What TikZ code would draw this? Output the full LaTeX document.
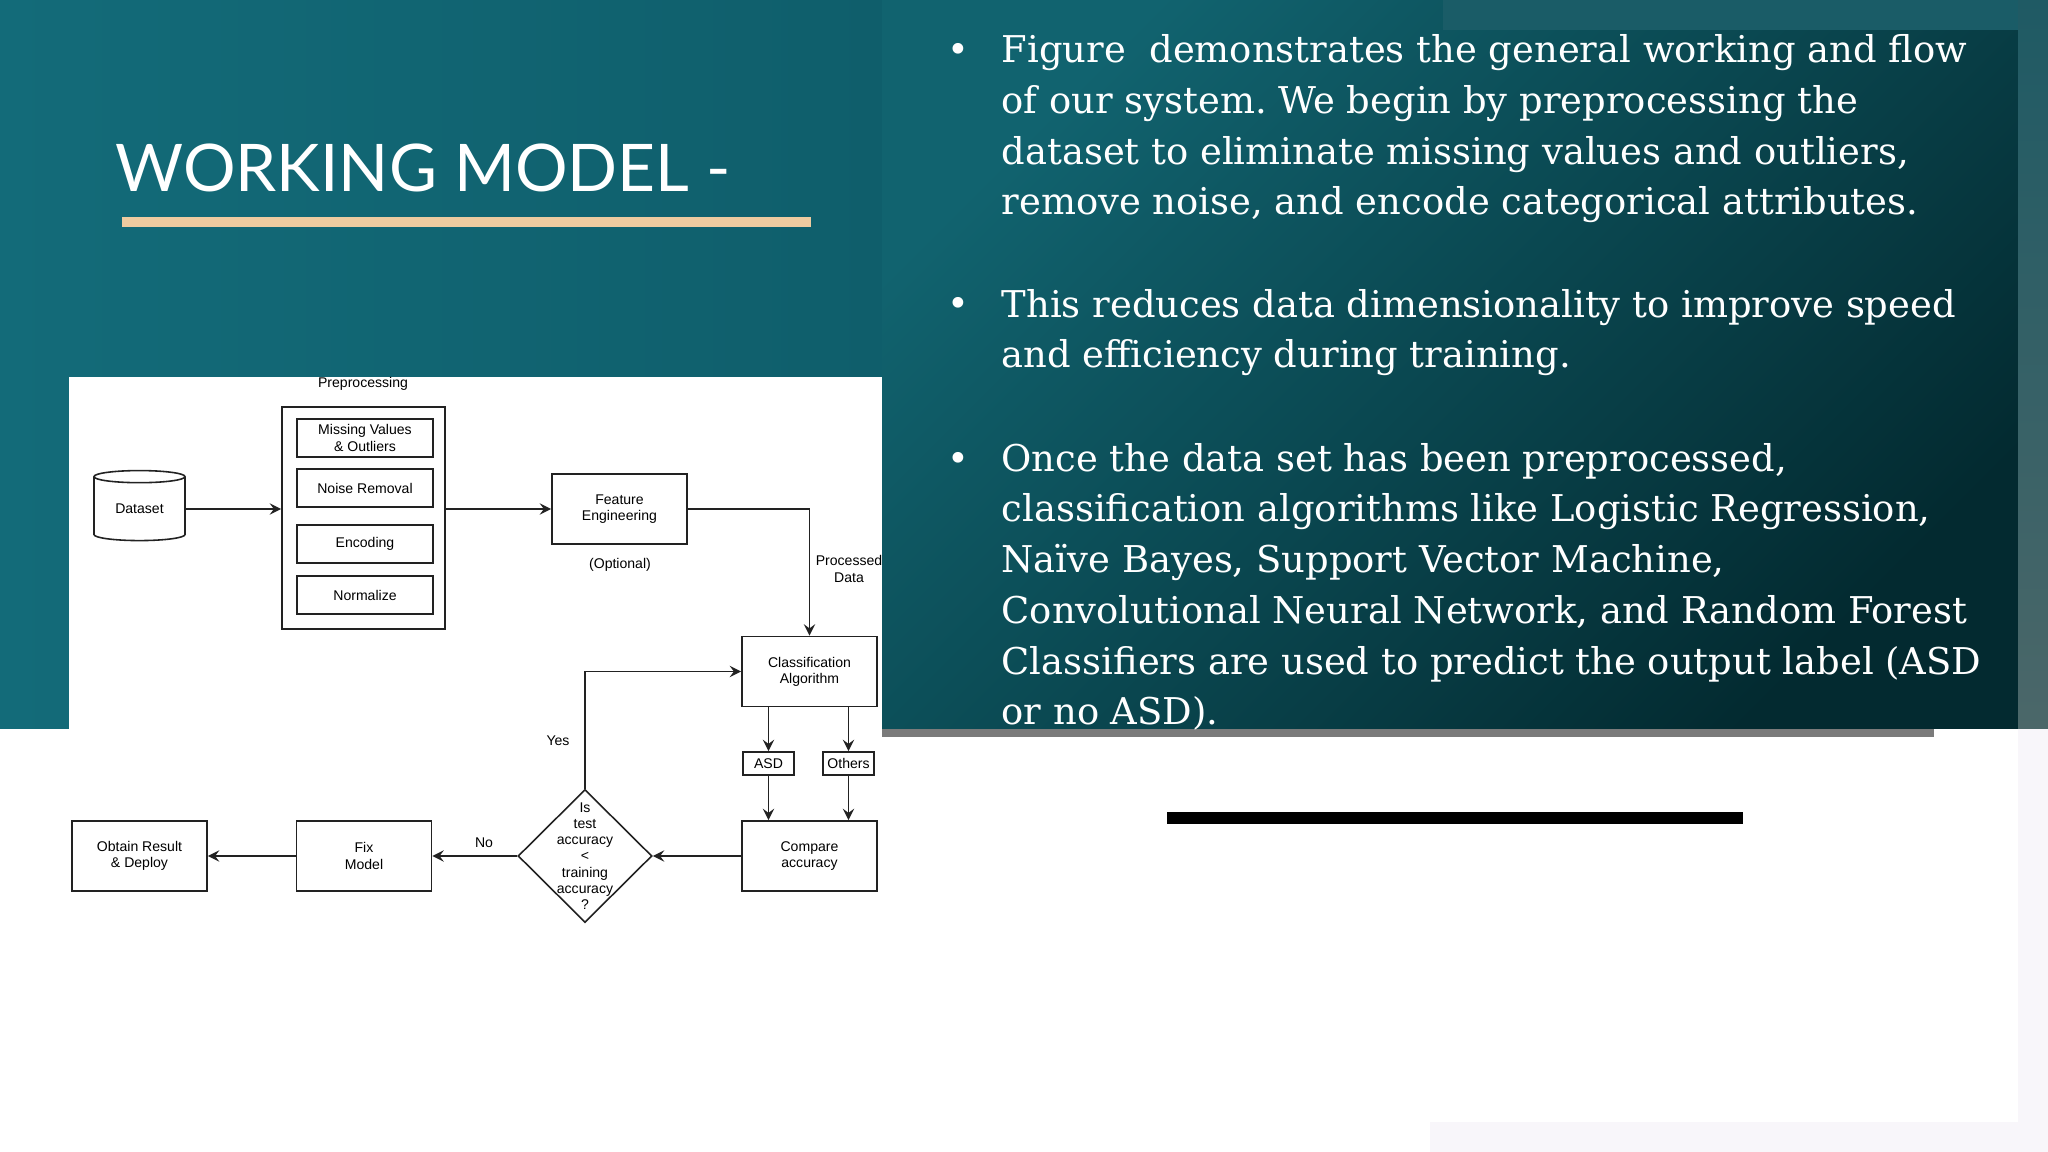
\documentclass[tikz,border=0pt]{standalone}
\usepackage{fontspec}
\setmainfont{Liberation Sans}
\newfontfamily\titlefont{Lato}
\newfontfamily\bodyfont{DejaVu Serif}
\usetikzlibrary{shapes.geometric,positioning}
\frenchspacing

\definecolor{slideteal}{HTML}{136B79}
\definecolor{slidetealdark}{HTML}{0F5E6B}
\definecolor{paneltop}{HTML}{11636F}
\definecolor{panelbot}{HTML}{032A30}
\definecolor{panelcap}{HTML}{1A5C67}
\definecolor{striptop}{HTML}{1F5A64}
\definecolor{stripbot}{HTML}{4B6769}
\definecolor{paper}{HTML}{F8F6FA}
\definecolor{shadowbar}{HTML}{7B7B7B}
\definecolor{barbeige}{HTML}{EECBA0}
\definecolor{flowline}{HTML}{222222}

\newcommand\flowfont{\fontsize{4pt}{4.6pt}\selectfont}

\tikzset{
  box/.style={draw=flowline, line width=0.45pt, rectangle, minimum width=1.35cm, minimum height=0.70cm, inner sep=0pt, align=center, font=\flowfont},
  subbox/.style={box, minimum width=1.36cm, minimum height=0.38cm},
  tagbox/.style={box, minimum width=0.51cm, minimum height=0.23cm},
  flowlabel/.style={inner sep=0pt, align=center, font=\flowfont},
  bullettext/.style={text=white, anchor=base west, align=left, inner sep=0pt, font=\bodyfont\fontsize{10.5pt}{14.45pt}\selectfont},
  bulletdot/.style={text=white, anchor=base, inner sep=0pt, font=\bodyfont\fontsize{10.5pt}{14.45pt}\selectfont},
}

\begin{document}
\begin{tikzpicture}[x=1cm,y=1cm,>=stealth]
\useasboundingbox (0,0) rectangle (20.48,-11.52);
\fill[white] (0,0) rectangle (20.48,-11.52);
\shade[left color=slideteal, right color=slidetealdark] (0,0) rectangle (8.82,-7.29);
\fill[white] (0.69,-3.77) rectangle (8.82,-7.29);
\shade[top color=paneltop, bottom color=panelbot, shading angle=45] (8.82,0) rectangle (20.18,-7.29);
\fill[panelcap] (14.43,0) rectangle (20.18,-0.30);
\shade[top color=striptop, bottom color=stripbot] (20.18,0) rectangle (20.48,-7.29);
\fill[paper] (20.18,-7.29) rectangle (20.48,-11.52);
\fill[paper] (14.30,-11.22) rectangle (20.48,-11.52);
\fill[shadowbar] (8.82,-7.29) rectangle (19.34,-7.37);
\fill[black] (11.67,-8.12) rectangle (17.43,-8.24);

\node[anchor=base west, inner sep=0pt, text=white, font=\titlefont\fontsize{18.7pt}{22pt}\selectfont] (title) at (1.15,-1.92) {WORKING MODEL -};
\fill[barbeige] (1.22,-2.17) rectangle (8.11,-2.27);

% multi-line nodes sit on their last baseline
\node[bulletdot] (dot1) at (9.58,-0.63) {•};
\node[bullettext] (para1) at (10.01,-2.15) {Figure\ \ demonstrates the general working and flow\\of our system. We begin by preprocessing the\\dataset to eliminate missing values and outliers,\\remove noise, and encode categorical attributes.};
\node[bulletdot] (dot2) at (9.58,-3.17) {•};
\node[bullettext] (para2) at (10.01,-3.68) {This reduces data dimensionality to improve speed\\and efficiency during training.};
\node[bulletdot] (dot3) at (9.58,-4.71) {•};
\node[bullettext] (para3) at (10.01,-7.25) {Once the data set has been preprocessed,\\classification algorithms like Logistic Regression,\\Naïve Bayes, Support Vector Machine,\\Convolutional Neural Network, and Random Forest\\Classifiers are used to predict the output label (ASD\\or no ASD).};

\node[flowlabel] (prelabel) at (3.63,-3.84) {Preprocessing};
\node[box, minimum width=1.63cm, minimum height=2.22cm] (pre) at (3.635,-5.18) {};
\node[subbox] (miss) at (3.65,-4.38) {Missing Values\\\& Outliers};
\node[subbox] (noise) at (3.65,-4.88) {Noise Removal};
\node[subbox] (enc) at (3.65,-5.44) {Encoding};
\node[subbox] (norm) at (3.65,-5.95) {Normalize};
\node[cylinder, shape border rotate=90, aspect=0.25, draw=flowline, line width=0.45pt, minimum width=0.91cm, minimum height=0.70cm, inner sep=0pt, font=\flowfont] (data) at (1.395,-5.09) {Dataset};
\node[box] (feat) at (6.195,-5.09) {Feature\\Engineering};
\node[flowlabel] (optional) at (6.20,-5.65) {(Optional)};
\node[flowlabel] (processed) at (8.49,-5.69) {Processed\\Data};
\node[box] (cls) at (8.095,-6.715) {Classification\\Algorithm};
\node[tagbox] (asd) at (7.685,-7.635) {ASD};
\node[tagbox] (others) at (8.485,-7.635) {Others};
\node[box] (cmp) at (8.095,-8.56) {Compare\\accuracy};
\node[diamond, draw=flowline, line width=0.45pt, aspect=1, minimum width=1.34cm, minimum height=1.33cm, inner sep=0pt] (test) at (5.85,-8.56) {};
\node[flowlabel] (testtext) at (test.center) {Is\\test\\accuracy\\<\\training\\accuracy\\?};
\node[box] (fix) at (3.64,-8.56) {Fix\\Model};
\node[box] (obtain) at (1.395,-8.56) {Obtain Result\\\& Deploy};
\node[flowlabel] (yes) at (5.58,-7.41) {Yes};
\node[flowlabel] (no) at (4.84,-8.43) {No};

\draw[->, flowline, line width=0.45pt] (data.east) -- (data.east -| pre.west);
\draw[->, flowline, line width=0.45pt] (feat.west -| pre.east) -- (feat.west);
\draw[->, flowline, line width=0.45pt] (feat.east) -| (cls.north);
\draw[->, flowline, line width=0.45pt] (asd.north |- cls.south) -- (asd.north);
\draw[->, flowline, line width=0.45pt] (others.north |- cls.south) -- (others.north);
\draw[->, flowline, line width=0.45pt] (asd.south) -- (asd.south |- cmp.north);
\draw[->, flowline, line width=0.45pt] (others.south) -- (others.south |- cmp.north);
\draw[->, flowline, line width=0.45pt] (cmp.west) -- (test.east);
\draw[->, flowline, line width=0.45pt] (test.west) -- (fix.east);
\draw[->, flowline, line width=0.45pt] (fix.west) -- (obtain.east);
\draw[->, flowline, line width=0.45pt] (test.north) |- (cls.west);
\end{tikzpicture}
\end{document}
